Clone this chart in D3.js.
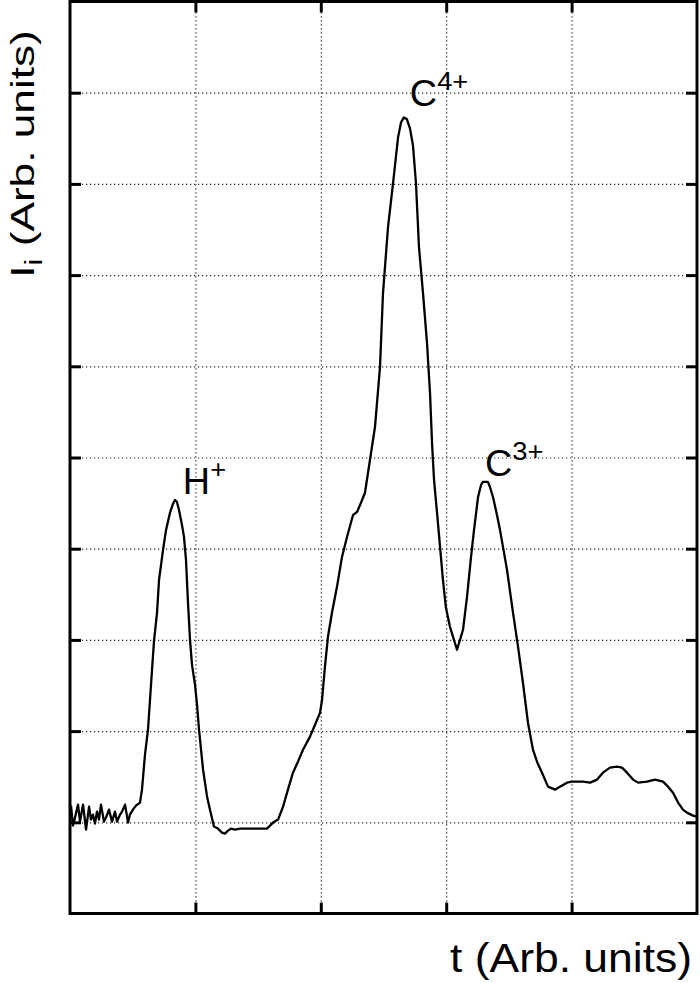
<!DOCTYPE html>
<html>
<head>
<meta charset="utf-8">
<script src="https://cdn.jsdelivr.net/npm/d3@7"></script>
<style>
  body { margin: 0; background: #fff; }
  svg { display: block; font-family: "Liberation Sans", Arial, Helvetica, sans-serif; }
  .grid line { stroke: #222; stroke-width: 1.2; stroke-dasharray: 1.2 2.8; }
  .ticks line { stroke: #000; stroke-width: 3; }
</style>
</head>
<body>
<div id="chart"></div>
<script>
// time axis (arb. units), 5 grid cells across
const tValues = [
  0.008, 0.024, 0.040, 0.064, 0.080, 0.104, 0.128, 0.152, 0.167, 0.183,
  0.199, 0.215, 0.231, 0.247, 0.271, 0.287, 0.311, 0.335, 0.359, 0.375,
  0.399, 0.415, 0.439, 0.463, 0.478, 0.502, 0.526, 0.558,
  0.574, 0.598, 0.622, 0.638, 0.654, 0.670, 0.694, 0.710, 0.742, 0.766,
  0.797, 0.821, 0.837, 0.853, 0.869, 0.893, 0.909, 0.925, 0.941, 0.957,
  0.973, 0.997, 1.013, 1.029, 1.061, 1.093, 1.116, 1.148, 1.180, 1.212,
  1.236, 1.260, 1.284, 1.316, 1.356, 1.475, 1.571, 1.595, 1.619, 1.659,
  1.699, 1.738, 1.778, 1.818, 1.858, 1.914, 1.954, 1.994, 2.010, 2.033,
  2.057, 2.089, 2.129, 2.169, 2.209, 2.257, 2.289, 2.313, 2.352, 2.392,
  2.432, 2.472, 2.496, 2.536, 2.576, 2.616, 2.640, 2.663, 2.687, 2.711,
  2.735, 2.759, 2.783, 2.815, 2.847, 2.871, 2.887, 2.903, 2.927, 2.951,
  2.974, 2.998, 3.030, 3.062, 3.086, 3.110, 3.134, 3.166, 3.198, 3.222,
  3.254, 3.278, 3.293, 3.333, 3.349, 3.373, 3.405, 3.429, 3.485, 3.533,
  3.573, 3.612, 3.652, 3.692, 3.724, 3.764, 3.812, 3.868, 3.907, 3.963,
  4.003, 4.091, 4.147, 4.203, 4.250, 4.306, 4.362, 4.402, 4.442, 4.490,
  4.530, 4.601, 4.665, 4.729, 4.769, 4.809, 4.849, 4.888, 4.920, 4.968,
  5.000
];

// ion current (arb. units), 10 grid cells up
const iValues = [
  1.183, 0.964, 1.051, 1.194, 1.008, 1.194, 0.920, 1.172, 1.030, 1.084,
  0.986, 1.117, 1.030, 1.194, 1.008, 1.051, 1.139, 1.008, 1.117, 1.008,
  1.084, 1.117, 1.194, 0.997, 1.084, 1.139, 1.183, 1.216,
  1.358, 1.742, 2.015, 2.344, 2.672, 2.990, 3.297, 3.658, 3.987, 4.206,
  4.392, 4.491, 4.534, 4.513, 4.425, 4.261, 4.129, 3.877, 3.406, 3.001,
  2.727, 2.508, 2.289, 2.015, 1.577, 1.281, 1.139, 0.953, 0.931, 0.887,
  0.876, 0.909, 0.931, 0.920, 0.931, 0.931, 0.931, 0.964, 0.997, 1.030,
  1.172, 1.358, 1.544, 1.665, 1.796, 1.939, 2.070, 2.202, 2.344, 2.705,
  3.034, 3.297, 3.582, 3.910, 4.129, 4.370, 4.403, 4.480, 4.611, 4.973,
  5.334, 5.991, 6.802, 7.525, 8.007, 8.510, 8.675, 8.729, 8.708, 8.609,
  8.423, 8.007, 7.306, 6.802, 6.254, 5.706, 5.159, 4.754, 4.392, 4.020,
  3.658, 3.352, 3.143, 3.001, 2.892, 3.001, 3.111, 3.472, 3.910, 4.206,
  4.567, 4.699, 4.732, 4.732, 4.677, 4.567, 4.370, 4.206, 3.768, 3.297,
  2.924, 2.530, 2.092, 1.796, 1.665, 1.544, 1.391, 1.358, 1.391, 1.435,
  1.446, 1.446, 1.435, 1.468, 1.544, 1.599, 1.610, 1.599, 1.544, 1.468,
  1.435, 1.446, 1.468, 1.446, 1.391, 1.325, 1.216, 1.139, 1.106, 1.073,
  1.062
];

const xTicks = [1, 2, 3, 4];
const yTicks = [1, 2, 3, 4, 5, 6, 7, 8, 9];

// peak labels: [base, superscript, t, I]
const peakLabels = [
  ["H", "+", 0.90, 4.6],
  ["C", "4+", 2.71, 8.85],
  ["C", "3+", 3.31, 4.8]
];

const xLabel = "t (Arb. units)";
const yLabelMain = "I", yLabelSub = "i", yLabelRest = " (Arb. units)";

const W = 700, H = 983,
    margin = { top: 1.5, right: 3, bottom: 69.5, left: 70 };

let svg = d3.select("#chart").append("svg")
    .attr("width", W)
    .attr("height", H);

let x = d3.scaleLinear().domain([0, 5]).range([margin.left, W - margin.right]),
    y = d3.scaleLinear().domain([0, 10]).range([H - margin.bottom, margin.top]);

let plotW = W - margin.left - margin.right,
    plotH = H - margin.top - margin.bottom;

// dotted grid
svg.append("g")
    .attr("class", "grid")
    .attr("transform", "translate(0," + (H - margin.bottom) + ")")
    .call(d3.axisBottom(x).tickValues(xTicks).tickSize(-plotH).tickFormat(""))
    .call(g => g.select(".domain").remove());

svg.append("g")
    .attr("class", "grid")
    .attr("transform", "translate(" + margin.left + ",0)")
    .call(d3.axisLeft(y).tickValues(yTicks).tickSize(-plotW).tickFormat(""))
    .call(g => g.select(".domain").remove());

// inward ticks on all four sides
const tick = 11;
[
  [d3.axisBottom(x).tickValues(xTicks), "translate(0," + (H - margin.bottom) + ")"],
  [d3.axisTop(x).tickValues(xTicks), "translate(0," + margin.top + ")"],
  [d3.axisLeft(y).tickValues(yTicks), "translate(" + margin.left + ",0)"],
  [d3.axisRight(y).tickValues(yTicks), "translate(" + (W - margin.right) + ",0)"]
].forEach(function(a) {
    svg.append("g")
        .attr("class", "ticks")
        .attr("transform", a[1])
        .call(a[0].tickSize(-tick).tickFormat(""))
        .call(g => g.select(".domain").remove());
});

// signal
let data = tValues.map(function(t, i) { return { t: t, v: iValues[i] }; });

let line = d3.line()
    .x(function(d) { return x(d.t); })
    .y(function(d) { return y(d.v); });

svg.append("path")
    .datum(data)
    .attr("fill", "none")
    .attr("stroke", "#000")
    .attr("stroke-width", 2.3)
    .attr("stroke-linejoin", "round")
    .attr("d", line);

// frame
svg.append("rect")
    .attr("x", margin.left)
    .attr("y", margin.top)
    .attr("width", plotW)
    .attr("height", plotH)
    .attr("fill", "none")
    .attr("stroke", "#000")
    .attr("stroke-width", 3);

// peak labels
peakLabels.forEach(function(p) {
    let px = x(p[2]), py = y(p[3]);
    let t = svg.append("text")
        .attr("transform", "translate(" + px + "," + py + ") scale(1.05,1)")
        .attr("font-size", 36)
        .text(p[0]);
    t.append("tspan")
        .attr("font-size", 26)
        .attr("dy", -16)
        .text(p[1]);
});

// axis titles
svg.append("text")
    .attr("x", 692)
    .attr("y", 972)
    .attr("text-anchor", "end")
    .attr("font-size", 40)
    .attr("textLength", 242)
    .attr("lengthAdjust", "spacingAndGlyphs")
    .text(xLabel);

let yl = svg.append("text")
    .attr("transform", "translate(34,154) rotate(-90) scale(1.3,1)")
    .attr("text-anchor", "middle")
    .attr("font-size", 34);
yl.append("tspan").text(yLabelMain);
yl.append("tspan").attr("font-size", 24).attr("dy", 8).text(yLabelSub);
yl.append("tspan").attr("dy", -8).text(yLabelRest);
</script>
</body>
</html>
